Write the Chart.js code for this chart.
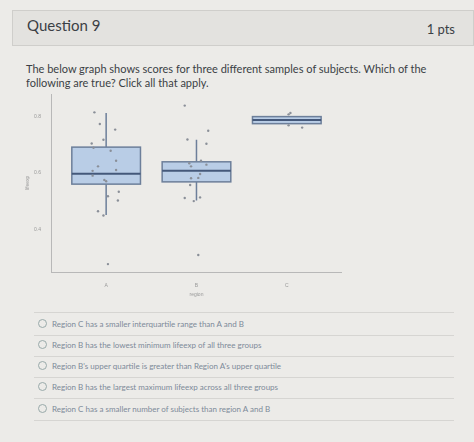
<!DOCTYPE html><html><head><meta charset="utf-8">
<script src="https://cdn.jsdelivr.net/npm/chart.js@4/dist/chart.umd.min.js"></script>
<style>
body{margin:0;width:474px;height:442px;background:#ecebe8;font-family:Lato,"Open Sans",sans-serif;position:relative;overflow:hidden;color:#3b3f45}
.hdr{position:absolute;left:12px;top:10px;width:462px;height:36px;background:#e3e2df;border:1px solid #cfcecb;box-sizing:border-box}
.hdr .q{position:absolute;left:14px;top:5px;font-size:15px}
.hdr .p{position:absolute;right:18px;top:10px;font-size:13px}
.txt{position:absolute;left:26px;top:62px;width:425px;font-size:11px;line-height:14px;color:#3b3f45}
#wrap{position:absolute;left:25px;top:88px;width:320px;height:210px}
.line{position:absolute;left:34px;width:420px;height:1px;background:#d6d5d2}
.opt{position:absolute;left:38px;font-size:8px;color:#7d8a99}
.opt span{display:inline-block;width:7px;height:7px;border:1px solid #9aa;border-radius:50%;margin-right:5px;vertical-align:-1px}
</style></head><body>
<div class="hdr"><div class="q">Question 9</div><div class="p">1 pts</div></div>
<div class="txt">The below graph shows scores for three different samples of subjects. Which of the following are true? Click all that apply.</div>
<div id="wrap"><canvas id="c"></canvas></div>
<div class="line" style="top:312px"></div>
<div class="opt" style="top:319px"><span></span>Region C has a smaller interquartile range than A and B</div>
<div class="line" style="top:335px"></div>
<div class="opt" style="top:340px"><span></span>Region B has the lowest minimum lifeexp of all three groups</div>
<div class="line" style="top:356px"></div>
<div class="opt" style="top:361px"><span></span>Region B's upper quartile is greater than Region A's upper quartile</div>
<div class="line" style="top:377px"></div>
<div class="opt" style="top:382px"><span></span>Region B has the largest maximum lifeexp across all three groups</div>
<div class="line" style="top:398px"></div>
<div class="opt" style="top:404px"><span></span>Region C has a smaller number of subjects than region A and B</div>
<div class="line" style="top:420px"></div>
<script>
const categories=["A","B","C"];
const q1=[0.561,0.569,0.775];
const median=[0.598,0.608,0.788];
const q3=[0.692,0.640,0.800];
const whiskLo=[0.452,0.503,0.775];
const whiskHi=[0.813,0.718,0.800];
const ptsA=[0.815,0.774,0.754,0.718,0.705,0.69,0.679,0.644,0.624,0.611,0.608,0.591,0.576,0.571,0.534,0.518,0.503,0.465,0.45,0.278];
const jitA=[-0.13,-0.07,0.10,-0.03,-0.16,-0.14,0.05,0.11,-0.09,0.11,-0.15,-0.15,-0.02,0,0.14,0.02,0.13,-0.09,-0.03,0.02];
const ptsB=[0.839,0.75,0.719,0.704,0.644,0.635,0.63,0.624,0.597,0.583,0.582,0.558,0.514,0.512,0.501,0.31];
const jitB=[-0.13,0.13,-0.10,0.11,0.05,-0.08,0.11,-0.06,0.04,0.02,-0.06,-0.07,0.04,-0.13,-0.03,0.02];
const ptsC=[0.813,0.808,0.769,0.761];
const jitC=[0.04,0.02,0.02,0.17];
const yTicks=[0.4,0.6,0.8];
const all=[[ptsA,jitA],[ptsB,jitB],[ptsC,jitC]];
const points=[];
all.forEach(([p,j],i)=>p.forEach((v,k)=>points.push({x:i+j[k],y:v})));
const boxPlugin={id:'box',beforeDatasetsDraw(ch){
 const {ctx,scales:{x,y}}=ch;ctx.save();
 categories.forEach((c,i)=>{
  const xc=x.getPixelForValue(i),hw=x.getPixelForValue(i+0.38)-xc;
  ctx.strokeStyle='#6d7f9a';ctx.lineWidth=1.5;
  ctx.beginPath();ctx.moveTo(xc,y.getPixelForValue(whiskHi[i]));ctx.lineTo(xc,y.getPixelForValue(q3[i]));
  ctx.moveTo(xc,y.getPixelForValue(q1[i]));ctx.lineTo(xc,y.getPixelForValue(whiskLo[i]));ctx.stroke();
  const t=y.getPixelForValue(q3[i]),b=y.getPixelForValue(q1[i]);
  ctx.fillStyle='#b9cde6';ctx.fillRect(xc-hw,t,2*hw,b-t);ctx.strokeRect(xc-hw,t,2*hw,b-t);
  ctx.strokeStyle='#44587a';ctx.lineWidth=2;const m=y.getPixelForValue(median[i]);
  ctx.beginPath();ctx.moveTo(xc-hw,m);ctx.lineTo(xc+hw,m);ctx.stroke();
 });ctx.restore();}};
new Chart(document.getElementById('c'),{type:'scatter',
 data:{datasets:[{data:points,pointRadius:1.2,backgroundColor:'#8a8f98',borderWidth:0}]},
 options:{responsive:true,maintainAspectRatio:false,animation:false,
  plugins:{legend:{display:false},tooltip:{enabled:false}},
  layout:{padding:{top:4,right:0}},
  scales:{
   x:{type:'linear',min:-0.6,max:2.6,grid:{display:false},border:{color:'#b8b8b8'},
      afterBuildTicks(a){a.ticks=[0,1,2].map(v=>({value:v}));},
      ticks:{color:'#999',font:{size:5},callback:v=>categories[v]},
      title:{display:true,text:'region',color:'#999',font:{size:5},padding:0}},
   y:{min:0.25,max:0.88,grid:{display:false},border:{color:'#b8b8b8'},
      afterBuildTicks(a){a.ticks=yTicks.map(v=>({value:v}));},
      ticks:{color:'#999',font:{size:5}},
      title:{display:true,text:'lifeexp',color:'#999',font:{size:5},padding:0}}}},
 plugins:[boxPlugin]});
</script></body></html>
